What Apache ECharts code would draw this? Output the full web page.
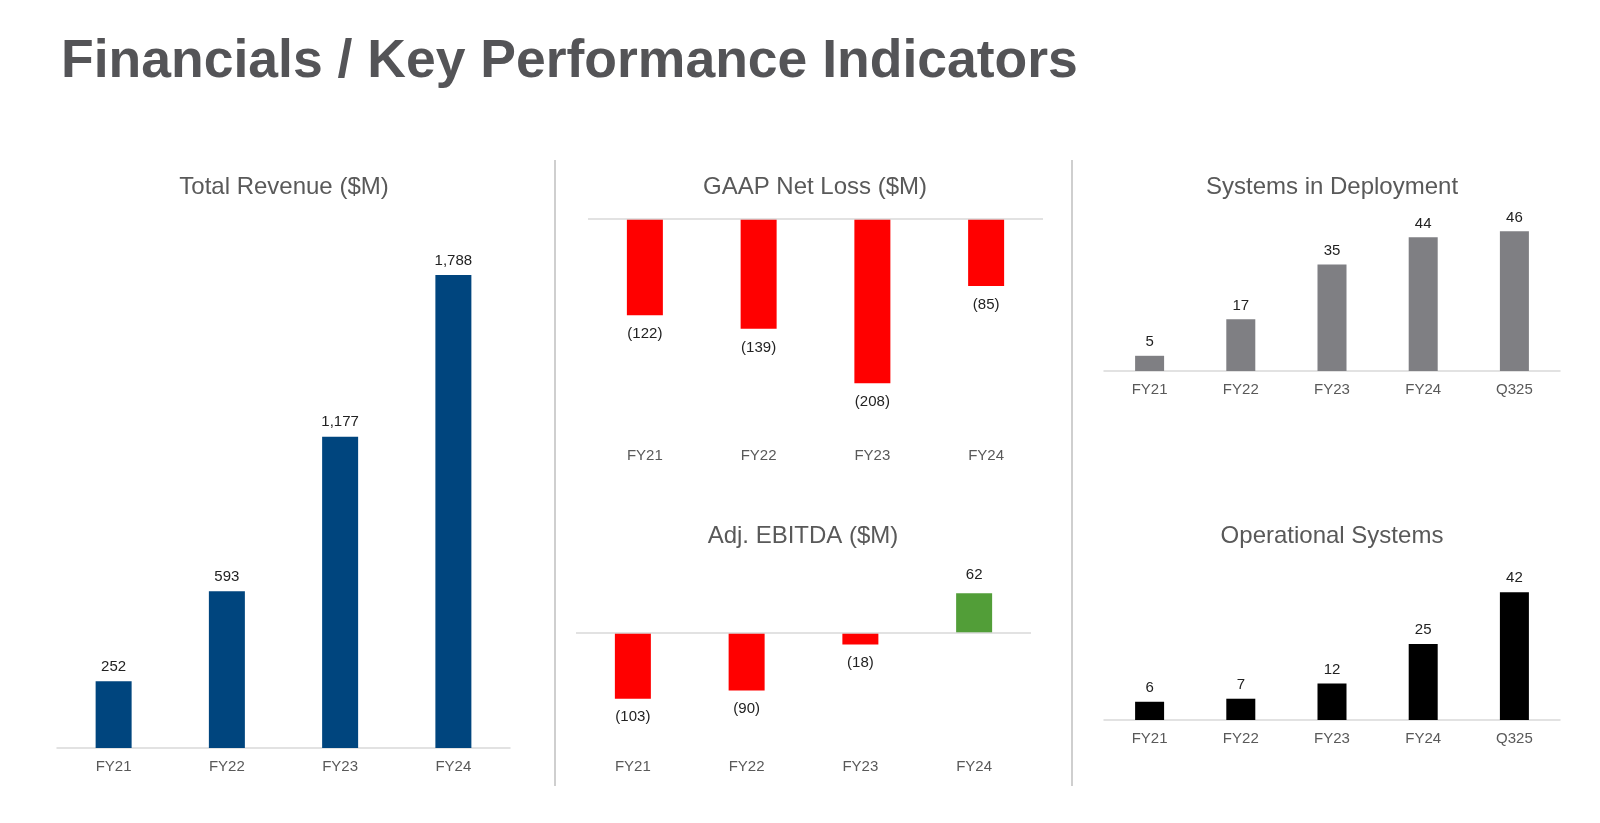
<html>
<head>
<meta charset="utf-8">
<script src="https://cdn.jsdelivr.net/npm/echarts@6/dist/echarts.min.js"></script>
<style>
	body { margin: 0; background: #fff; }
	#main { width: 1600px; height: 823px; }
</style>
</head>
<body>
<div id="main"></div>
<script>
	// categories
	var years4 = ['FY21', 'FY22', 'FY23', 'FY24'];
	var years5 = ['FY21', 'FY22', 'FY23', 'FY24', 'Q325'];
	// values
	var revenue = [252, 593, 1177, 1788];
	var netLoss = [-122, -139, -208, -85];
	var ebitda = [-103, -90, -18, 62];
	var deployed = [5, 17, 35, 44, 46];
	var operational = [6, 7, 12, 25, 42];

	var FONT = "'Liberation Sans', Arial, sans-serif";
	var GRAY_TXT = '#595959';
	var AXIS_CLR = '#d9d9d9';

	function fmt(v) {
		var s = Math.abs(v).toLocaleString('en-US');
		return v < 0 ? '(' + s + ')' : s;
	}

	function panelTitle(text, cx, top) {
		return {
			text: text, left: cx, top: top, textAlign: 'center', padding: 0,
			textStyle: { fontFamily: FONT, fontSize: 24, fontWeight: 'normal', color: GRAY_TXT }
		};
	}

	function xAx(idx, cats, margin, showLine) {
		return {
			type: 'category', gridIndex: idx, data: cats,
			axisLine: { show: showLine, onZero: false, lineStyle: { color: AXIS_CLR, width: 1.5 } },
			axisTick: { show: false },
			axisLabel: { margin: margin, fontFamily: FONT, fontSize: 15, color: GRAY_TXT }
		};
	}

	function yAx(idx, min, max) {
		return {
			type: 'value', gridIndex: idx, min: min, max: max, show: false,
			splitLine: { show: false }
		};
	}

	function barSeries(idx, data, color, width, dist, zeroLine) {
		var s = {
			type: 'bar', xAxisIndex: idx, yAxisIndex: idx, data: data,
			barWidth: width,
			itemStyle: { color: color },
			label: {
				show: true, position: 'outside', distance: dist,
				fontFamily: FONT, fontSize: 15, color: '#222',
				formatter: function (p) { return fmt(p.value); }
			},
			silent: true
		};
		if (zeroLine) {
			s.markLine = {
				silent: true, symbol: 'none', label: { show: false },
				lineStyle: { color: AXIS_CLR, width: 1.5, type: 'solid' },
				data: [{ yAxis: 0 }]
			};
		}
		return s;
	}

	var chart = echarts.init(document.getElementById('main'));
	var option = {
		animation: false,
		title: [
			{
				text: 'Financials / Key Performance Indicators', left: 61, top: 35, padding: 0,
				textStyle: { fontFamily: FONT, fontSize: 53.5, fontWeight: 'bold', color: '#545457' }
			},
			panelTitle('Total Revenue ($M)', 284, 175),
			panelTitle('GAAP Net Loss ($M)', 815, 175),
			panelTitle('Adj. EBITDA ($M)', 803, 524),
			panelTitle('Systems in Deployment', 1332, 175),
			panelTitle('Operational Systems', 1332, 524)
		],
		graphic: [
			{ type: 'line', shape: { x1: 555, y1: 160, x2: 555, y2: 786 }, style: { stroke: '#bfbfbf', lineWidth: 1.5 } },
			{ type: 'line', shape: { x1: 1072, y1: 160, x2: 1072, y2: 786 }, style: { stroke: '#bfbfbf', lineWidth: 1.5 } }
		],
		grid: [
			{ left: 57, top: 219, width: 453, height: 529 },
			{ left: 588, top: 219, width: 455, height: 221 },
			{ left: 576, top: 569, width: 455, height: 179 },
			{ left: 1104, top: 219, width: 456, height: 152 },
			{ left: 1104, top: 568, width: 456, height: 152 }
		],
		xAxis: [
			xAx(0, years4, 11, true),
			xAx(1, years4, 8, false),
			xAx(2, years4, 11, false),
			xAx(3, years5, 11, true),
			xAx(4, years5, 11, true)
		],
		yAxis: [
			yAx(0, 0, 2000),
			yAx(1, -280, 0),
			yAx(2, -180, 100),
			yAx(3, 0, 50),
			yAx(4, 0, 50)
		],
		series: [
			barSeries(0, revenue, '#00457e', 36, 7, false),
			barSeries(1, netLoss, '#ff0000', 36, 11.5, true),
			barSeries(2, ebitda, function (p) { return p.value < 0 ? '#ff0000' : '#529e38'; }, 36, 11, true),
			barSeries(3, deployed, '#7f7f83', 29, 6, false),
			barSeries(4, operational, '#000000', 29, 6.5, false)
		]
	};
	chart.setOption(option);
</script>
</body>
</html>
